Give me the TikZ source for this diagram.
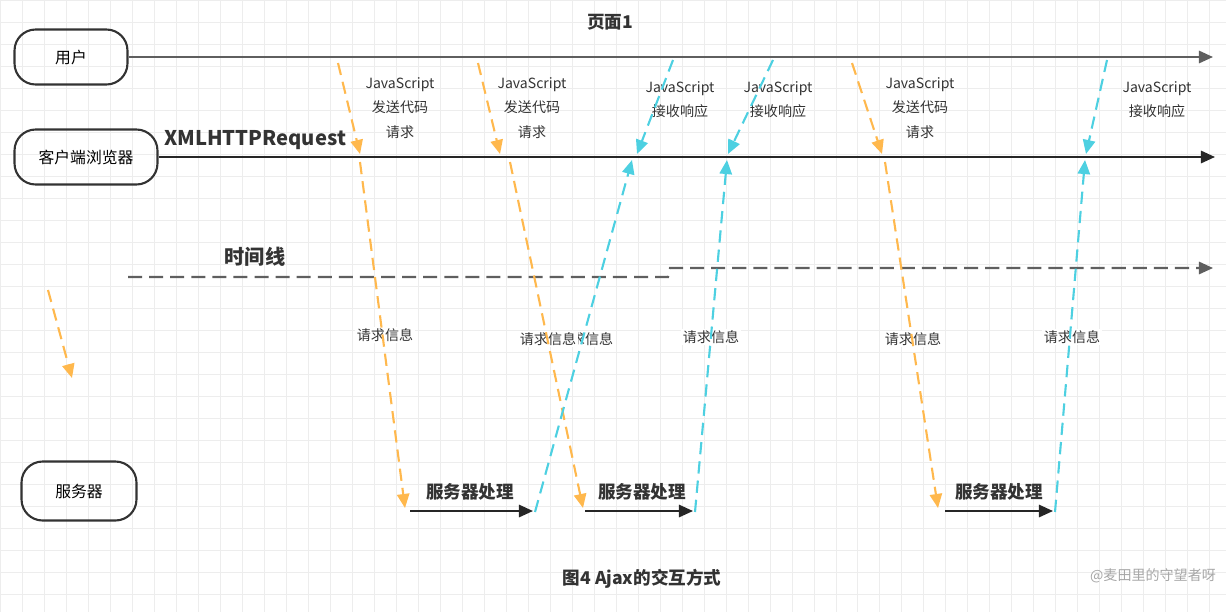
\documentclass[tikz,border=0pt]{standalone}
\usepackage{fontspec}
\setmainfont{Noto Sans CJK SC}
\usetikzlibrary{arrows.meta, positioning}
\definecolor{reqOrange}{HTML}{FFB84D}
\definecolor{resCyan}{HTML}{4DD0E1}
\definecolor{lineGray}{HTML}{5F5F5F}
\tikzset{
    actor/.style={draw=black!80, very thick, rounded corners=12pt, minimum height=1.1cm, align=center, font=\small},
    tip/.style={-{Triangle[length=8pt, width=7pt]}},
    request/.style={reqOrange, very thick, dash pattern=on 7pt off 4pt, tip},
    response/.style={resCyan, very thick, dash pattern=on 7pt off 4pt, tip},
    note/.style={align=center, font=\footnotesize\linespread{1.45}\selectfont, text=black!80},
    infolabel/.style={font=\footnotesize, text=black!80, fill=white, inner sep=1pt},
    bold/.style={font=\bfseries, text=black!80},
    headline/.style={font=\bfseries\fontsize{11.5pt}{14pt}\selectfont, text=black!80},
}
\begin{document}
\begin{tikzpicture}[x=0.02cm, y=-0.02cm]
        \useasboundingbox (0,0) rectangle (1226,612);
        % Background grid
        \draw[black!7, step=0.44cm] (0,612) grid (1226,0);
        
        % Actors
        \node[actor, minimum width=2.26cm] (user) at (71,57) {用户};
        \node[actor, minimum width=2.86cm] (browser) at (86,157) {客户端浏览器};
        \node[actor, minimum width=2.3cm, minimum height=1.18cm] (server) at (79,491) {服务器};
        
        % Lifelines
        \coordinate (userEnd) at (1213,57);
        \coordinate (browserEnd) at (1215,157);
        \draw[lineGray, very thick, tip] (user.east) -- (userEnd);
        \draw[black!85, very thick, tip] (browser.east) -- (browserEnd);
        \node[headline] (xhr) at (255,140) {XMLHTTPRequest};
        \node[bold] (title) at (610,22) {页面1};
        
        % Timeline
        \coordinate (tlStart) at (128,277);
        \coordinate (tlEnd) at (1213,268);
        \draw[lineGray, very thick, dash pattern=on 8pt off 4pt, tip] (tlStart) -- (668,277) -- (670,268) -- (tlEnd);
        \node[headline] (timeline) at (255,257) {时间线};
        
        % Labels
        \node[infolabel] (infoB2) at (585,339) {请求信息};
        \foreach \x/\y/\name in {385/335/infoA, 548/339/infoB, 711/337/infoC, 913/339/infoD, 1072/337/infoE}
            \node[infolabel] (\name) at (\x,\y) {请求信息};
        \foreach \x/\name in {400/sendA, 532/sendB, 920/sendC}
            \node[note] (\name) at (\x,108) {JavaScript\\发送代码\\请求};
        \foreach \x/\name in {680/recvA, 778/recvB, 1157/recvC}
            \node[note] (\name) at (\x,100) {JavaScript\\接收响应};
        
        % Server processing
        \foreach \xa/\xb/\xl/\name in {410/533/470/procA, 585/693/642/procB, 945/1053/999/procC} {
            \coordinate (\name s) at (\xa,511);
            \coordinate (\name e) at (\xb,511);
            \node[bold] (\name) at (\xl,492) {服务器处理};
            \draw[black!85, very thick, tip] (\name s) -- (\name e);
        }
        
        % Requests (orange)
        \foreach \ax/\bx/\cx/\dx/\name in {338/360/360/405/reqA, 478/500/510/583/reqB, 852/882/885/938/reqC} {
            \coordinate (\name1) at (\ax,63);
            \coordinate (\name2) at (\bx,154);
            \coordinate (\name3) at (\cx,162);
            \coordinate (\name4) at (\dx,508);
            \draw[request] (\name1) -- (\name2);
            \draw[request] (\name3) -- (\name4);
        }
        \coordinate (legendA) at (48,290);
        \coordinate (legendB) at (72,378);
        \draw[request] (legendA) -- (legendB);
        
        % Responses (cyan)
        \foreach \ax/\bx/\cx/\dx/\name in {535/632/673/637/resA, 695/727/773/728/resB, 1055/1085/1107/1086/resC} {
            \coordinate (\name1) at (\ax,512);
            \coordinate (\name2) at (\bx,160);
            \coordinate (\name3) at (\cx,60);
            \coordinate (\name4) at (\dx,154);
            \draw[response] (\name1) -- (\name2);
            \draw[response] (\name3) -- (\name4);
        }
        
        % Caption
        \node[bold] (caption) at (642,579) {图4 Ajax的交互方式};
        \node[font=\footnotesize, text=black!35] (mark) at (1153,576) {@麦田里的守望者呀};
    \end{tikzpicture}
\end{document}
